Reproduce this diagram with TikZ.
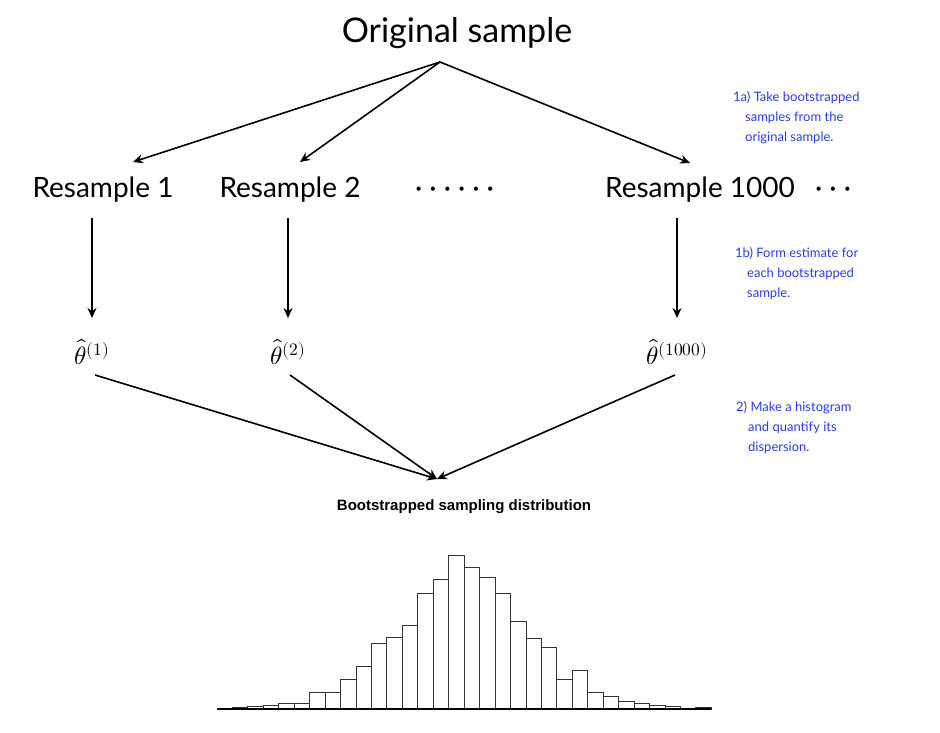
\documentclass[tikz,border=0pt]{standalone}
\usepackage{fontspec}
\usepackage{unicode-math}
\setmathfont{Latin Modern Math}
\setmainfont{Lato}
\newfontfamily\arialf{Liberation Sans}
\usetikzlibrary{arrows.meta}
\definecolor{noteblue}{RGB}{40,60,230}
\newcommand{\dotrow}[1]{\foreach \k in {1,...,#1}{\raisebox{2pt}{\textperiodcentered}\hspace{7pt}}}
\begin{document}
\begin{tikzpicture}[x=1pt,y=-1pt,
  arr/.style={draw=black,line width=1.6pt,-{Stealth[length=10pt,width=9pt]}},
  big/.style={font=\fontsize{34}{36}\selectfont,inner sep=0pt},
  mid/.style={font=\fontsize{28}{30}\selectfont,inner sep=0pt},
  th/.style={font=\fontsize{25}{30}\selectfont,inner sep=0pt},
  note/.style={font=\fontsize{13}{20}\selectfont,text=noteblue,align=left,anchor=north west,inner sep=0pt},
  bar/.style={draw=black!80,line width=1pt,fill=white}]
\useasboundingbox (0,0) rectangle (940,732);
\node[big] (orig) at (457,33) {Original sample};
\coordinate (top) at (440,62);
\node[mid] (r1) at (103,190) {Resample 1};
\node[mid] (r2) at (290,190) {Resample 2};
\node[mid,anchor=west] (dots) at (415,193) {\dotrow{6}};
\node[mid] (r3) at (700,190) {Resample 1000};
\node[mid,anchor=west] (dots2) at (815,193) {\dotrow{3}};
\node[th] (t1) at (92,352) {$\hat\theta^{(1)}$};
\node[th] (t2) at (288,352) {$\hat\theta^{(2)}$};
\node[th] (t3) at (677,352) {$\hat\theta^{(1000)}$};
\coordinate (bot) at (437,479);
\node[font=\arialf\bfseries\fontsize{15}{18}\selectfont,inner sep=0pt] (lab) at (464,507) {Bootstrapped sampling distribution};
\draw[arr] (top) -- (133,162);
\draw[arr] (top) -- (300,162);
\draw[arr] (top) -- (690,163);
\draw[arr] (92,218) -- (92,318);
\draw[arr] (288,218) -- (288,318);
\draw[arr] (677,218) -- (677,318);
\draw[arr] (95,375) -- (bot);
\draw[arr] (290,375) -- (bot);
\draw[arr] (675,375) -- (bot);
\node[note] (n1) at (733,91) {1a) Take bootstrapped\\\hspace*{12pt}samples from the\\\hspace*{12pt}original sample.};
\node[note] (n2) at (735,247) {1b) Form estimate for\\\hspace*{12pt}each bootstrapped\\\hspace*{12pt}sample.};
\node[note] (n3) at (736,401) {2) Make a histogram\\\hspace*{12pt}and quantify its\\\hspace*{12pt}dispersion.};
\foreach \h [count=\i from 0] in {0.7,1.3,2.3,3.3,6,6,16.7,16.7,30,42.7,66,72,84,116,129.3,154,142,132,115.3,88,70.7,61.3,30,38.7,16.7,12.7,8,5.3,4,2.7,0,2}{
  \ifdim\h pt>0pt
  \draw[bar] ({217+15.45*\i},709) rectangle ({217+15.45*(\i+1)},{709-\h});
  \fi
}
\draw[line width=1.2pt] (217,709) -- (711,709);
\end{tikzpicture}
\end{document}
